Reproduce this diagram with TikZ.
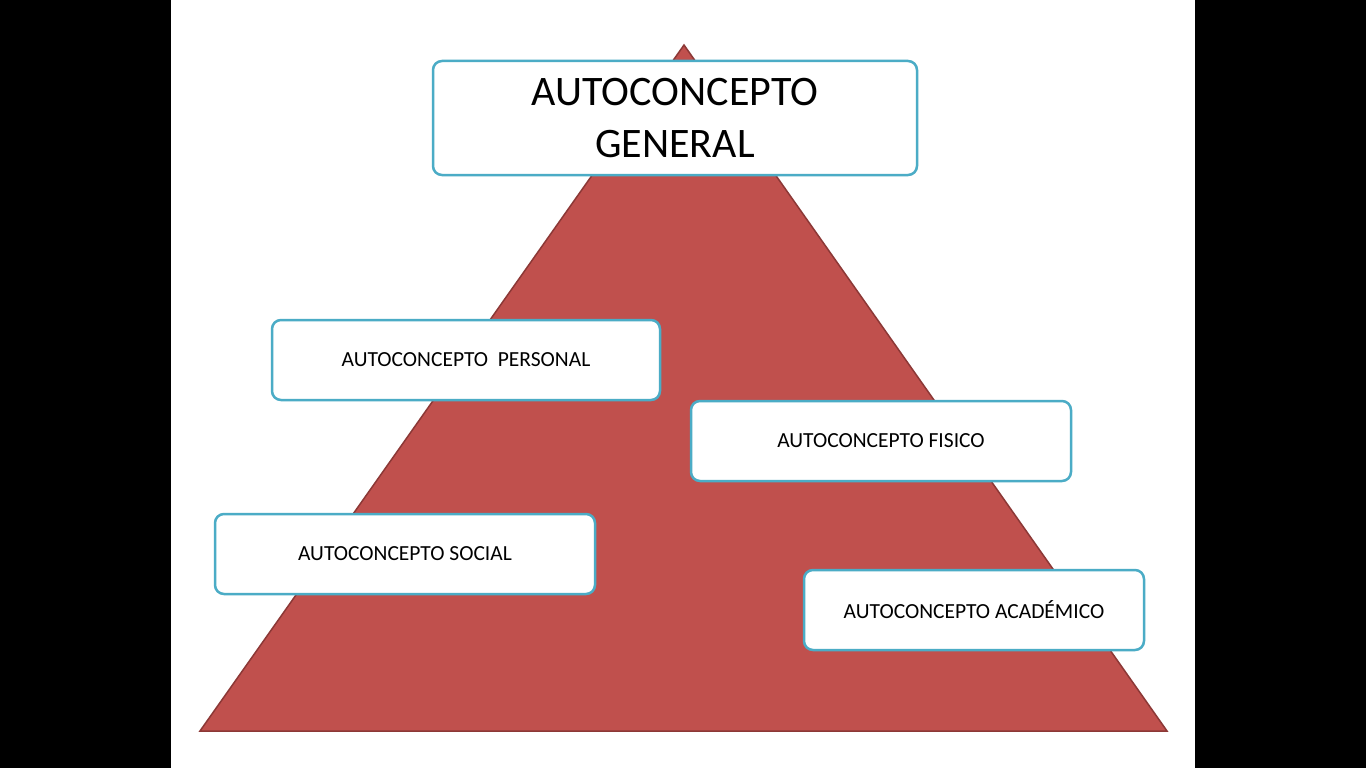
\documentclass[tikz,border=0pt]{standalone}
\usepackage{fontspec}
\setmainfont{Carlito}
\begin{document}
\begin{tikzpicture}[x=1pt,y=-1pt,
  box/.style={draw=boxc,line width=2.5pt,fill=white,rounded corners=9pt,inner sep=0pt},
  small/.style={font=\fontsize{21.5}{26}\selectfont}]
\definecolor{tri}{HTML}{C0504D}
\definecolor{trib}{HTML}{8C3836}
\definecolor{boxc}{HTML}{4BACC6}
\useasboundingbox (0,0) rectangle (1366,768);
\fill[black] (0,0) rectangle (171,768);
\fill[black] (1195,0) rectangle (1366,768);
\fill[white] (171,0) rectangle (1195,768);
\filldraw[fill=tri,draw=trib,line width=1.5pt] (684,45) -- (1167,731) -- (200,731) -- cycle;
\node[box,minimum width=484pt,minimum height=114pt,align=center,font=\fontsize{42}{52}\selectfont] (gen) at (675,118) {AUTOCONCEPTO\\GENERAL};
\node[box,small,minimum width=388pt,minimum height=80pt] (per) at (466,360) {AUTOCONCEPTO\ \ PERSONAL};
\node[box,small,minimum width=380pt,minimum height=80pt] (fis) at (881,441) {AUTOCONCEPTO FISICO};
\node[box,small,minimum width=380pt,minimum height=80pt] (soc) at (405,554) {AUTOCONCEPTO SOCIAL};
\node[box,small,minimum width=340pt,minimum height=80pt] (aca) at (974,610) {AUTOCONCEPTO ACADÉMICO};
\end{tikzpicture}
\end{document}
